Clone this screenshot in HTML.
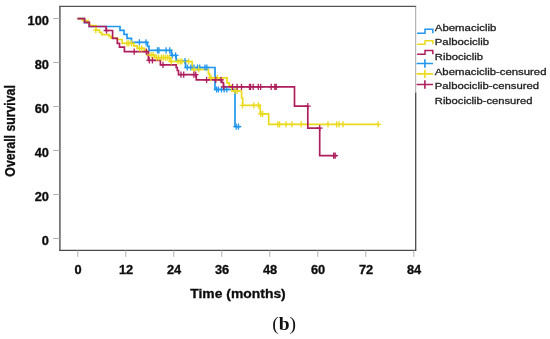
<!DOCTYPE html>
<html lang="en"><head><meta charset="utf-8"><title>Overall survival</title>
<style>
html,body{margin:0;padding:0;background:#fff;}
body{width:550px;height:339px;position:relative;overflow:hidden;}
</style></head><body>
<svg width="550" height="339" viewBox="0 0 550 339" style="position:absolute;left:0;top:0">
<path d="M59.9,250.3V6.4" stroke="#707070" stroke-width="1.7" fill="none"/>
<path d="M59.1,6.4H416.2" stroke="#555" stroke-width="1.2" fill="none"/>
<path d="M415.7,6.4V92.5" stroke="#999" stroke-width="0.9" fill="none"/>
<path d="M415.7,92.5V250.3" stroke="#4a4a4a" stroke-width="1.3" fill="none"/>
<path d="M59.1,250.3H416.3" stroke="#4a4a4a" stroke-width="1.2" fill="none"/>
<path d="M77.8,250.3V256.9M125.8,250.3V256.9M173.8,250.3V256.9M221.8,250.3V256.9M269.8,250.3V256.9M317.8,250.3V256.9M365.8,250.3V256.9M413.8,250.3V256.9M59.9,238.5H53.3M59.9,194.5H53.3M59.9,150.5H53.3M59.9,106.5H53.3M59.9,62.5H53.3M59.9,18.5H53.3" stroke="#a8a8a8" stroke-width="0.9" fill="none"/>
<path d="M77.5,18.6 H84.4 V22.6 H89.1 V26.5 H120 V30.4 H124 V34.4 H127 V38.4 H131.5 V42.4 H147.5 V46.3 H149 V50.3 H171.4 V55.4 H176.2 V61 H185.5 V67.5 H215 V89.5 H235 V126.6 H240.5" stroke="#2196ee" stroke-width="1.7" fill="none" stroke-linejoin="miter"/>
<path d="M77.5,18.6 H82.6 V20.7 H88 V22.8 H89.5 V25.5 H95.8 V30.2 H99.5 V32.4 H101.7 V34.6 H109.2 V36.4 H111 V38.1 H116.9 V39.5 H122.2 V43.3 H133.7 V45.9 H137.2 V48.4 H144.4 V50.6 H147 V55 H154.6 V57.7 H170 V61.5 H192.1 V69.5 H208.4 V73.7 H209.6 V77.8 H227.1 V82.9 H229.1 V85.6 H231.8 V91 H241.6 V98 H242.7 V105.4 H260.2 V113.8 H268.7 V124.4 H378.2" stroke="#ebda1c" stroke-width="1.7" fill="none" stroke-linejoin="miter"/>
<path d="M77.5,18.6 H84.6 V22.4 H89.3 V26.5 H106.1 V30.5 H112.6 V38.4 H117.3 V43.3 H119.5 V47.2 H124.4 V51.6 H148.4 V60.4 H160.4 V64.8 H176.2 V67.5 H177.3 V70.5 H178.5 V74.6 H196.3 V79.8 H221.8 V82.5 H223.4 V86.9 H294.5 V106.1 H307.8 V128.1 H319.7 V155.6 H337" stroke="#ae1f5d" stroke-width="1.7" fill="none" stroke-linejoin="miter"/>
<path d="M139.4,39.3V45.5M136.5,42.4H142.3M146,39.3V45.5M143.1,42.4H148.9M157.5,47.2V53.4M154.6,50.3H160.4M159,47.2V53.4M156.1,50.3H161.9M166.1,47.2V53.4M163.2,50.3H169.0M169.7,47.2V53.4M166.8,50.3H172.6M172.2,52.3V58.5M169.3,55.4H175.1M175.6,52.3V58.5M172.7,55.4H178.5M185,57.9V64.1M182.1,61H187.9M187.3,64.4V70.6M184.4,67.5H190.2M190.8,64.4V70.6M187.9,67.5H193.7M193.9,64.4V70.6M191.0,67.5H196.8M197.5,64.4V70.6M194.6,67.5H200.4M199.7,64.4V70.6M196.8,67.5H202.6M205,64.4V70.6M202.1,67.5H207.9M206.8,64.4V70.6M203.9,67.5H209.7M216.6,86.4V92.6M213.7,89.5H219.5M218.4,86.4V92.6M215.5,89.5H221.3M221.5,86.4V92.6M218.6,89.5H224.4M224.2,86.4V92.6M221.3,89.5H227.1M226.8,86.4V92.6M223.9,89.5H229.7M236.2,123.5V129.7M233.3,126.6H239.1M238.4,123.5V129.7M235.5,126.6H241.3" stroke="#2196ee" stroke-width="1.3" fill="none"/>
<path d="M95.8,27.1V33.3M92.9,30.2H98.7M127,40.2V46.4M124.1,43.3H129.9M128.8,40.2V46.4M125.9,43.3H131.7M131.5,40.2V46.4M128.6,43.3H134.4M139.4,45.3V51.5M136.5,48.4H142.3M141.7,45.3V51.5M138.8,48.4H144.6M151,51.9V58.1M148.1,55H153.9M153,51.9V58.1M150.1,55H155.9M156.6,54.6V60.8M153.7,57.7H159.5M158.6,54.6V60.8M155.7,57.7H161.5M161.3,54.6V60.8M158.4,57.7H164.2M163.3,54.6V60.8M160.4,57.7H166.2M165.2,54.6V60.8M162.3,57.7H168.1M167.2,54.6V60.8M164.3,57.7H170.1M169.2,54.6V60.8M166.3,57.7H172.1M171.3,58.4V64.6M168.4,61.5H174.2M178,58.4V64.6M175.1,61.5H180.9M180.2,58.4V64.6M177.3,61.5H183.1M181.8,58.4V64.6M178.9,61.5H184.7M188.6,58.4V64.6M185.7,61.5H191.5M194,66.4V72.6M191.1,69.5H196.9M198.8,66.4V72.6M195.9,69.5H201.7M211,74.7V80.9M208.1,77.8H213.9M217.3,74.7V80.9M214.4,77.8H220.2M234.9,87.9V94.1M232.0,91H237.8M237.2,87.9V94.1M234.3,91H240.1M242.5,102.3V108.5M239.6,105.4H245.4M253.8,102.3V108.5M250.9,105.4H256.7M258.4,102.3V108.5M255.5,105.4H261.3M260.8,110.7V116.9M257.9,113.8H263.7M262.6,110.7V116.9M259.7,113.8H265.5M277.8,121.3V127.5M274.9,124.4H280.7M279.6,121.3V127.5M276.7,124.4H282.5M286,121.3V127.5M283.1,124.4H288.9M291.9,121.3V127.5M289.0,124.4H294.8M301.2,121.3V127.5M298.3,124.4H304.1M328,121.3V127.5M325.1,124.4H330.9M336.7,121.3V127.5M333.8,124.4H339.6M339,121.3V127.5M336.1,124.4H341.9M343,121.3V127.5M340.1,124.4H345.9M378.2,121.3V127.5M375.3,124.4H381.1" stroke="#ebda1c" stroke-width="1.3" fill="none"/>
<path d="M106.5,27.4V33.6M103.6,30.5H109.4M134.2,48.5V54.7M131.3,51.6H137.1M163,61.7V67.9M160.1,64.8H165.9M146.3,48.5V54.7M143.4,51.6H149.2M149.3,57.3V63.5M146.4,60.4H152.2M152.4,57.3V63.5M149.5,60.4H155.3M181,71.5V77.7M178.1,74.6H183.9M183.7,71.5V77.7M180.8,74.6H186.6M193.9,71.5V77.7M191.0,74.6H196.8M195.7,71.5V77.7M192.8,74.6H198.6M206.6,76.7V82.9M203.7,79.8H209.5M215.8,76.7V82.9M212.9,79.8H218.7M221,76.7V82.9M218.1,79.8H223.9M223.7,83.8V90.0M220.8,86.9H226.6M232.6,83.8V90.0M229.7,86.9H235.5M237.1,83.8V90.0M234.2,86.9H240.0M241.5,83.8V90.0M238.6,86.9H244.4M249.5,83.8V90.0M246.6,86.9H252.4M250.6,83.8V90.0M247.7,86.9H253.5M253.2,83.8V90.0M250.3,86.9H256.1M258.3,83.8V90.0M255.4,86.9H261.2M260.6,83.8V90.0M257.7,86.9H263.5M271.2,83.8V90.0M268.3,86.9H274.1M274.8,83.8V90.0M271.9,86.9H277.7M276.2,83.8V90.0M273.3,86.9H279.1M307.8,103.0V109.2M304.9,106.1H310.7M319.7,125.0V131.2M316.8,128.1H322.6M333.7,152.5V158.7M330.8,155.6H336.6M335.2,152.5V158.7M332.3,155.6H338.1" stroke="#ae1f5d" stroke-width="1.3" fill="none"/>
<text transform="translate(78.1,273.7) scale(1.07,1)" text-anchor="middle" font-family="'Liberation Sans', Arial, sans-serif" font-weight="bold" font-size="12px" fill="#0d0d0d" stroke="#0d0d0d" stroke-width="0.3" >0</text>
<text transform="translate(126.1,273.7) scale(1.07,1)" text-anchor="middle" font-family="'Liberation Sans', Arial, sans-serif" font-weight="bold" font-size="12px" fill="#0d0d0d" stroke="#0d0d0d" stroke-width="0.3" >12</text>
<text transform="translate(174.1,273.7) scale(1.07,1)" text-anchor="middle" font-family="'Liberation Sans', Arial, sans-serif" font-weight="bold" font-size="12px" fill="#0d0d0d" stroke="#0d0d0d" stroke-width="0.3" >24</text>
<text transform="translate(222.1,273.7) scale(1.07,1)" text-anchor="middle" font-family="'Liberation Sans', Arial, sans-serif" font-weight="bold" font-size="12px" fill="#0d0d0d" stroke="#0d0d0d" stroke-width="0.3" >36</text>
<text transform="translate(270.1,273.7) scale(1.07,1)" text-anchor="middle" font-family="'Liberation Sans', Arial, sans-serif" font-weight="bold" font-size="12px" fill="#0d0d0d" stroke="#0d0d0d" stroke-width="0.3" >48</text>
<text transform="translate(318.1,273.7) scale(1.07,1)" text-anchor="middle" font-family="'Liberation Sans', Arial, sans-serif" font-weight="bold" font-size="12px" fill="#0d0d0d" stroke="#0d0d0d" stroke-width="0.3" >60</text>
<text transform="translate(366.1,273.7) scale(1.07,1)" text-anchor="middle" font-family="'Liberation Sans', Arial, sans-serif" font-weight="bold" font-size="12px" fill="#0d0d0d" stroke="#0d0d0d" stroke-width="0.3" >72</text>
<text transform="translate(414.1,273.7) scale(1.07,1)" text-anchor="middle" font-family="'Liberation Sans', Arial, sans-serif" font-weight="bold" font-size="12px" fill="#0d0d0d" stroke="#0d0d0d" stroke-width="0.3" >84</text>
<text transform="translate(49.0,244.8) scale(1.07,1)" text-anchor="end" font-family="'Liberation Sans', Arial, sans-serif" font-weight="bold" font-size="12px" fill="#0d0d0d" stroke="#0d0d0d" stroke-width="0.3" >0</text>
<text transform="translate(49.0,200.8) scale(1.07,1)" text-anchor="end" font-family="'Liberation Sans', Arial, sans-serif" font-weight="bold" font-size="12px" fill="#0d0d0d" stroke="#0d0d0d" stroke-width="0.3" >20</text>
<text transform="translate(49.0,156.8) scale(1.07,1)" text-anchor="end" font-family="'Liberation Sans', Arial, sans-serif" font-weight="bold" font-size="12px" fill="#0d0d0d" stroke="#0d0d0d" stroke-width="0.3" >40</text>
<text transform="translate(49.0,112.8) scale(1.07,1)" text-anchor="end" font-family="'Liberation Sans', Arial, sans-serif" font-weight="bold" font-size="12px" fill="#0d0d0d" stroke="#0d0d0d" stroke-width="0.3" >60</text>
<text transform="translate(49.0,68.8) scale(1.07,1)" text-anchor="end" font-family="'Liberation Sans', Arial, sans-serif" font-weight="bold" font-size="12px" fill="#0d0d0d" stroke="#0d0d0d" stroke-width="0.3" >80</text>
<text transform="translate(49.0,24.8) scale(1.07,1)" text-anchor="end" font-family="'Liberation Sans', Arial, sans-serif" font-weight="bold" font-size="12px" fill="#0d0d0d" stroke="#0d0d0d" stroke-width="0.3" >100</text>
<text transform="translate(238.0,298.3) scale(1.07,1)" text-anchor="middle" font-family="'Liberation Sans', Arial, sans-serif" font-weight="bold" font-size="13px" fill="#0d0d0d" stroke="#0d0d0d" stroke-width="0.3" >Time (months)</text>
<text transform="translate(14.6,130.9) rotate(-90) scale(1,1.12)" text-anchor="middle" font-family="'Liberation Sans', Arial, sans-serif" font-weight="bold" font-size="12.3px" fill="#0d0d0d" stroke="#0d0d0d" stroke-width="0.3">Overall survival</text>
<text x="284.1" y="330.1" text-anchor="middle" font-family="'Liberation Serif', 'DejaVu Serif', serif" font-size="19.5px" fill="#111">(<tspan font-weight="bold">b</tspan>)</text>
<g font-family="'Liberation Sans', Arial, sans-serif" font-size="9.5px" fill="#222" stroke="#222" stroke-width="0.3">
<text x="434.8" y="30.6" textLength="61.5" lengthAdjust="spacingAndGlyphs">Abemaciclib</text>
<text x="434.8" y="45.2" textLength="54.2" lengthAdjust="spacingAndGlyphs">Palbociclib</text>
<text x="434.8" y="59.9" textLength="48.2" lengthAdjust="spacingAndGlyphs">Ribociclib</text>
<text x="434.8" y="74.5" textLength="111.7" lengthAdjust="spacingAndGlyphs">Abemaciclib-censured</text>
<text x="434.8" y="89.2" textLength="104.3" lengthAdjust="spacingAndGlyphs">Palbociclib-censured</text>
<text x="434.8" y="103.8" textLength="97.7" lengthAdjust="spacingAndGlyphs">Ribociclib-censured</text>
</g>
<path d="M417.1,33.3H425V29.2H432.8V33.3" stroke="#2196ee" stroke-width="1.5" fill="none"/>
<path d="M417.1,44.2H425V40.7H432.8V44.2" stroke="#ebda1c" stroke-width="1.5" fill="none"/>
<path d="M417.1,54.2H425V50.5H432.8V54.2" stroke="#ae1f5d" stroke-width="1.5" fill="none"/>
<path d="M416.6,63.5H433M424.9,59.3V67.7" stroke="#2196ee" stroke-width="1.6" fill="none"/>
<path d="M416.6,73.9H433M424.9,69.7V78.1" stroke="#ebda1c" stroke-width="1.6" fill="none"/>
<path d="M416.6,84.5H433M424.9,80.3V88.7" stroke="#ae1f5d" stroke-width="1.6" fill="none"/>
</svg>
</body></html>
